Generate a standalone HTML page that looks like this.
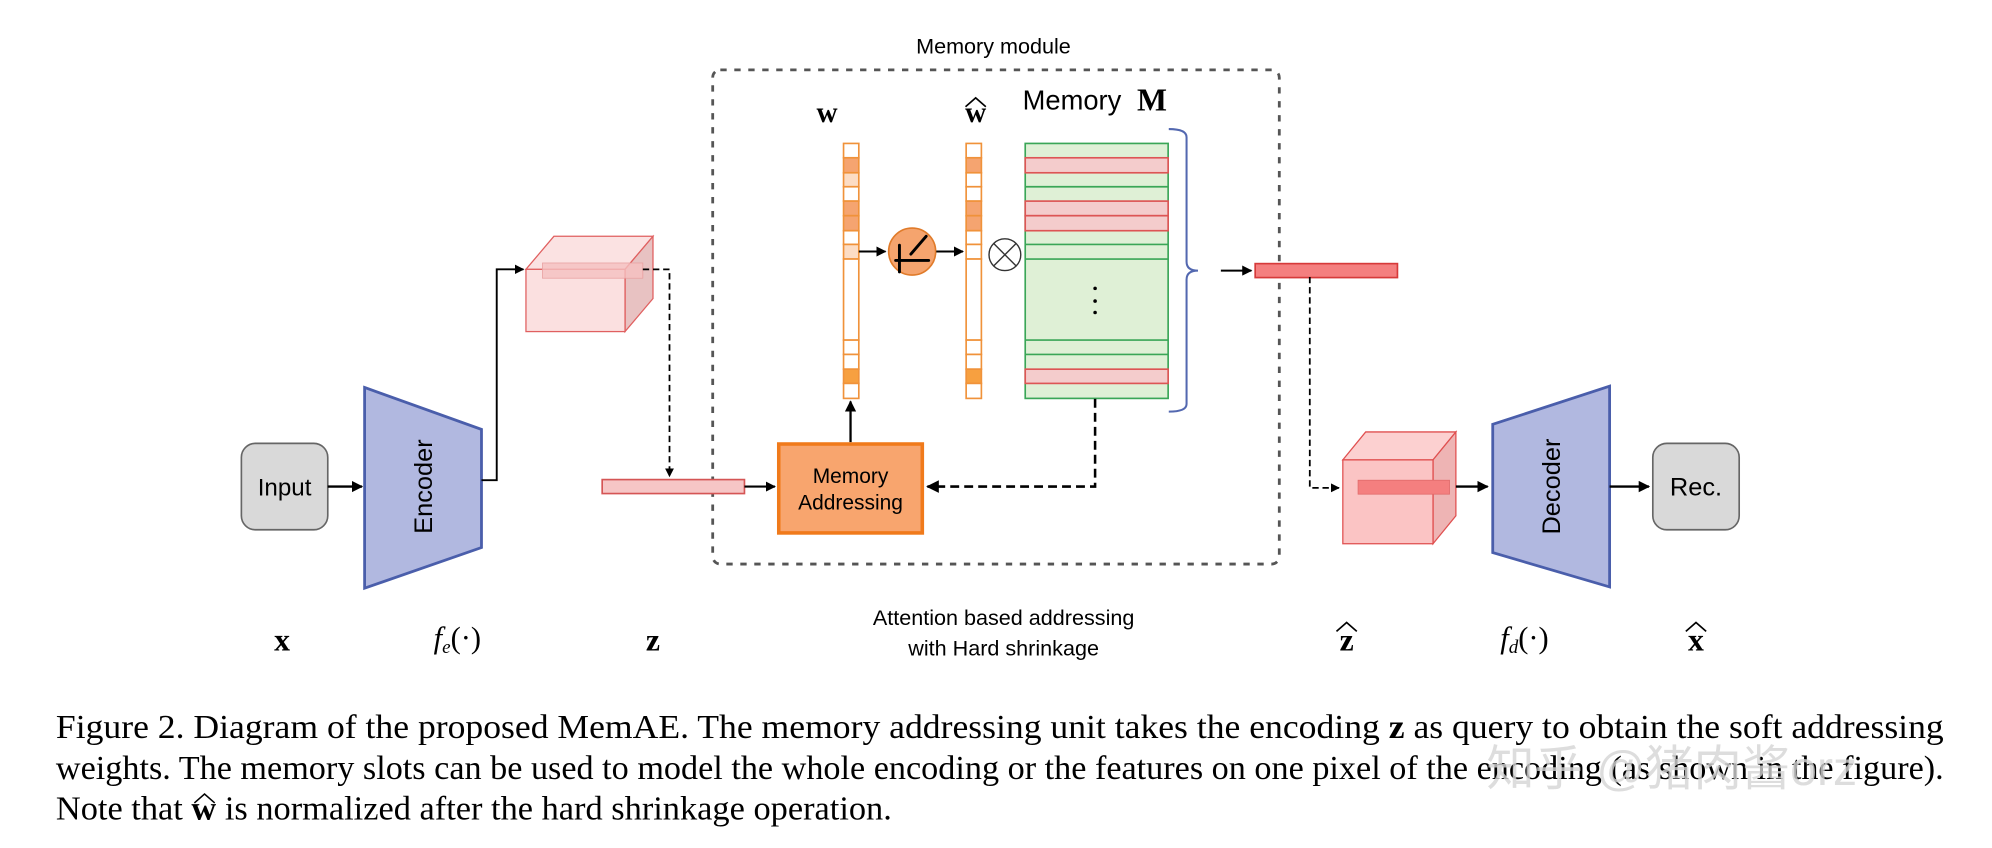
<!DOCTYPE html>
<html><head><meta charset="utf-8"><style>
html,body{margin:0;padding:0;background:#fff;}
svg{display:block;}
text{font-family:"Liberation Sans",sans-serif;}
text.serif, .serif text, tspan.serif{font-family:"Liberation Serif",serif;}
</style></head><body>
<svg width="1992" height="848" viewBox="0 0 1568 667.5" preserveAspectRatio="none" xmlns="http://www.w3.org/2000/svg">
<defs>
<marker id="ah" viewBox="0 0 10 10" refX="9" refY="5" markerWidth="5" markerHeight="5" orient="auto"><path d="M0,0 L10,5 L0,10 z" fill="#000"/></marker>
</defs>
<rect width="1568" height="667.5" fill="#fff"/>
<text x="782" y="42" font-size="17" text-anchor="middle">Memory module</text>
<rect x="561" y="55" width="446" height="389" rx="6" fill="none" stroke="#555" stroke-width="2.2" stroke-dasharray="5,6"/>

<!-- labels -->
<text x="651" y="96" font-size="23" font-weight="bold" class="serif" text-anchor="middle">w</text>
<text x="768" y="96" font-size="23" font-weight="bold" class="serif" text-anchor="middle">w</text>
<path d="M760,84 L768,77 L776,84" fill="none" stroke="#000" stroke-width="1.3"/>
<text x="805" y="86" font-size="21.5">Memory</text>
<text x="895" y="87" font-size="25" font-weight="bold" class="serif">M</text>

<!-- w column -->
<g stroke="#f0923a" stroke-width="1.3">
<rect x="664" y="112.9" width="12" height="11.3" fill="#fff"/>
<rect x="664" y="124.2" width="12" height="11.8" fill="#f5a470"/>
<rect x="664" y="136" width="12" height="11" fill="#fcdcc4"/>
<rect x="664" y="147" width="12" height="11.3" fill="#fff"/>
<rect x="664" y="158.3" width="12" height="11.5" fill="#f5a470"/>
<rect x="664" y="169.8" width="12" height="11.8" fill="#f5a470"/>
<rect x="664" y="181.6" width="12" height="10.8" fill="#fff"/>
<rect x="664" y="192.4" width="12" height="11.5" fill="#fcdcc4"/>
<rect x="664" y="203.9" width="12" height="63.8" fill="#fff"/>
<rect x="664" y="267.7" width="12" height="11.3" fill="#fff"/>
<rect x="664" y="279" width="12" height="11.6" fill="#fff"/>
<rect x="664" y="290.6" width="12" height="11.2" fill="#f7a040"/>
<rect x="664" y="301.8" width="12" height="11.8" fill="#fff"/>
</g>
<!-- w hat column -->
<g stroke="#f0923a" stroke-width="1.3">
<rect x="760.5" y="112.9" width="12" height="11.3" fill="#fff"/>
<rect x="760.5" y="124.2" width="12" height="11.8" fill="#f5a470"/>
<rect x="760.5" y="136" width="12" height="11" fill="#fff"/>
<rect x="760.5" y="147" width="12" height="11.3" fill="#fff"/>
<rect x="760.5" y="158.3" width="12" height="11.5" fill="#f5a470"/>
<rect x="760.5" y="169.8" width="12" height="11.8" fill="#f5a470"/>
<rect x="760.5" y="181.6" width="12" height="10.8" fill="#fff"/>
<rect x="760.5" y="192.4" width="12" height="11.5" fill="#fff"/>
<rect x="760.5" y="203.9" width="12" height="63.8" fill="#fff"/>
<rect x="760.5" y="267.7" width="12" height="11.3" fill="#fff"/>
<rect x="760.5" y="279" width="12" height="11.6" fill="#fff"/>
<rect x="760.5" y="290.6" width="12" height="11.2" fill="#f7a040"/>
<rect x="760.5" y="301.8" width="12" height="11.8" fill="#fff"/>
</g>

<!-- memory matrix -->
<rect x="807" y="112.9" width="112.5" height="200.7" fill="#dff0d6" stroke="#3aa657" stroke-width="1.3"/>
<g stroke="#3aa657" stroke-width="1.3">
<line x1="807" y1="147" x2="919.5" y2="147"/>
<line x1="807" y1="192.4" x2="919.5" y2="192.4"/>
<line x1="807" y1="203.9" x2="919.5" y2="203.9"/>
<line x1="807" y1="267.7" x2="919.5" y2="267.7"/>
<line x1="807" y1="279" x2="919.5" y2="279"/>
</g>
<g fill="#f4cccc" stroke="#dd5555" stroke-width="1.3">
<rect x="807" y="124.2" width="112.5" height="11.8"/>
<rect x="807" y="158.3" width="112.5" height="11.5"/>
<rect x="807" y="169.8" width="112.5" height="11.8"/>
<rect x="807" y="290.6" width="112.5" height="11.2"/>
</g>
<circle cx="862" cy="227" r="1.4" fill="#000"/>
<circle cx="862" cy="237" r="1.4" fill="#000"/>
<circle cx="862" cy="246" r="1.4" fill="#000"/>

<!-- brace -->
<path d="M920,101.6 Q934,101.6 934,108 L934,206 Q934,213 943,213 Q934,213 934,220 L934,318 Q934,324 920,324" fill="none" stroke="#5368b0" stroke-width="1.6"/>
<line x1="961" y1="213" x2="985" y2="213" stroke="#000" stroke-width="1.6" marker-end="url(#ah)"/>
<rect x="988" y="207.5" width="112" height="11" fill="#f47f7f" stroke="#d63a3a" stroke-width="1.3"/>

<!-- shrink circle -->
<line x1="676" y1="198" x2="697" y2="198" stroke="#000" stroke-width="1.6" marker-end="url(#ah)"/>
<circle cx="718" cy="198" r="18.5" fill="#f5a46e" stroke="#e07b2a" stroke-width="1.3"/>
<g stroke="#000" stroke-width="2.3" stroke-linecap="round">
<line x1="705" y1="205" x2="731" y2="205"/>
<line x1="708" y1="193" x2="708" y2="214"/>
<line x1="717" y1="200" x2="729" y2="186"/>
</g>
<line x1="737" y1="198" x2="758" y2="198" stroke="#000" stroke-width="1.6" marker-end="url(#ah)"/>
<circle cx="791" cy="200.5" r="12.5" fill="#fff" stroke="#333" stroke-width="1.1"/>
<line x1="782.2" y1="191.7" x2="799.8" y2="209.3" stroke="#333" stroke-width="1.1"/>
<line x1="799.8" y1="191.7" x2="782.2" y2="209.3" stroke="#333" stroke-width="1.1"/>

<!-- Input -->
<rect x="190" y="349" width="68" height="68" rx="11" fill="#d9d9d9" stroke="#666" stroke-width="1.3"/>
<text x="224" y="390" font-size="19" text-anchor="middle">Input</text>
<line x1="258" y1="383" x2="285" y2="383" stroke="#000" stroke-width="1.8" marker-end="url(#ah)"/>
<!-- Encoder -->
<polygon points="287,305 379,338 379,431 287,463" fill="#b1b8e0" stroke="#4a5eab" stroke-width="2.2"/>
<text transform="translate(340,383) rotate(-90)" font-size="20" text-anchor="middle">Encoder</text>
<polyline points="379,378 391,378 391,212 412,212" fill="none" stroke="#000" stroke-width="1.5" marker-end="url(#ah)"/>
<!-- cube 1 -->
<polygon points="414,212 436,186 514,186 492,212" fill="#fbe2e2" stroke="#e06060" stroke-width="1"/>
<polygon points="492,212 514,186 514,235 492,261" fill="#e8c2c2" stroke="#e06060" stroke-width="1"/>
<rect x="414" y="212" width="78" height="49" fill="#fadada" stroke="#e06060" stroke-width="1" fill-opacity="0.85"/>
<rect x="427" y="207" width="79" height="12" fill="#f5c0c0" stroke="#e8a0a0" stroke-width="0.6" fill-opacity="0.8"/>
<polyline points="506,212 527,212 527,375" fill="none" stroke="#000" stroke-width="1.4" stroke-dasharray="5,3" marker-end="url(#ah)"/>
<!-- z bar -->
<rect x="474" y="377.5" width="112" height="11" fill="#f6c6c6" stroke="#d55555" stroke-width="1.3"/>
<line x1="586" y1="383" x2="610" y2="383" stroke="#000" stroke-width="1.6" marker-end="url(#ah)"/>
<!-- Memory addressing -->
<rect x="613" y="349.5" width="113" height="70" fill="#f8a56e" stroke="#f07a1b" stroke-width="2.8"/>
<text x="669.5" y="380" font-size="16.5" text-anchor="middle">Memory</text>
<text x="669.5" y="401" font-size="16.5" text-anchor="middle">Addressing</text>
<line x1="669.5" y1="348" x2="669.5" y2="316" stroke="#000" stroke-width="1.8" marker-end="url(#ah)"/>
<polyline points="862,314 862,383 730,383" fill="none" stroke="#000" stroke-width="2" stroke-dasharray="7,4" marker-end="url(#ah)"/>

<!-- to cube 2 -->
<polyline points="1031,218 1031,384 1054,384" fill="none" stroke="#000" stroke-width="1.4" stroke-dasharray="5,3" marker-end="url(#ah)"/>
<!-- cube 2 -->
<polygon points="1057,362 1075,340 1146,340 1128,362" fill="#fcd0d0" stroke="#e05050" stroke-width="1"/>
<polygon points="1128,362 1146,340 1146,406 1128,428" fill="#eeb4b4" stroke="#e05050" stroke-width="1"/>
<rect x="1057" y="362" width="71" height="66" fill="#fbc4c4" stroke="#e05050" stroke-width="1"/>
<rect x="1069" y="378" width="72" height="11" fill="#f47f7f" stroke="#e06a6a" stroke-width="0.6"/>
<line x1="1146" y1="383" x2="1171" y2="383" stroke="#000" stroke-width="1.8" marker-end="url(#ah)"/>
<!-- Decoder -->
<polygon points="1175,334 1267,304 1267,462 1175,435" fill="#b1b8e0" stroke="#4a5eab" stroke-width="2.2"/>
<text transform="translate(1228,383) rotate(-90)" font-size="20" text-anchor="middle">Decoder</text>
<line x1="1267" y1="383" x2="1298" y2="383" stroke="#000" stroke-width="1.8" marker-end="url(#ah)"/>
<rect x="1301" y="349" width="68" height="68" rx="11" fill="#d9d9d9" stroke="#666" stroke-width="1.3"/>
<text x="1335" y="390" font-size="20" text-anchor="middle">Rec.</text>

<!-- bottom labels -->
<text x="222" y="512" font-size="25" font-weight="bold" class="serif" text-anchor="middle">x</text>
<text x="360" y="510" font-size="24" class="serif" text-anchor="middle"><tspan class="serif" font-style="italic">f</tspan><tspan class="serif" font-style="italic" font-size="15" dy="4">e</tspan><tspan class="serif" dy="-4">(·)</tspan></text>
<text x="514" y="512" font-size="25" font-weight="bold" class="serif" text-anchor="middle">z</text>
<text x="790" y="492" font-size="17" text-anchor="middle">Attention based addressing</text>
<text x="790" y="516" font-size="17" text-anchor="middle">with Hard shrinkage</text>
<text x="1060" y="512" font-size="25" font-weight="bold" class="serif" text-anchor="middle">z</text>
<path d="M1052,497 L1060,490 L1068,497" fill="none" stroke="#000" stroke-width="1.3"/>
<text x="1200" y="510" font-size="24" class="serif" text-anchor="middle"><tspan class="serif" font-style="italic">f</tspan><tspan class="serif" font-style="italic" font-size="15" dy="4">d</tspan><tspan class="serif" dy="-4">(·)</tspan></text>
<text x="1335" y="512" font-size="25" font-weight="bold" class="serif" text-anchor="middle">x</text>
<path d="M1327,497 L1335,490 L1343,497" fill="none" stroke="#000" stroke-width="1.3"/>

<!-- caption -->
<text class="serif" x="44" y="581" font-size="26.5" textLength="1486" lengthAdjust="spacingAndGlyphs">Figure 2. Diagram of the proposed MemAE. The memory addressing unit takes the encoding <tspan class="serif" font-weight="bold">z</tspan> as query to obtain the soft addressing</text>
<text class="serif" x="44" y="613" font-size="26.5" textLength="1486" lengthAdjust="spacingAndGlyphs">weights. The memory slots can be used to model the whole encoding or the features on one pixel of the encoding (as shown in the figure).</text>
<text class="serif" x="44" y="645" font-size="26.5" textLength="658" lengthAdjust="spacingAndGlyphs">Note that <tspan class="serif" font-weight="bold">w</tspan> is normalized after the hard shrinkage operation.</text>
<path d="M153,632 L161,625 L169,632" fill="none" stroke="#000" stroke-width="1.2"/>
<text x="1170" y="618" font-size="38" fill="#d4d4d4" fill-opacity="0.8" style="font-family:'Liberation Sans','Noto Sans CJK SC',sans-serif">知乎 @猪肉酱orz</text>
</svg>
</body></html>
